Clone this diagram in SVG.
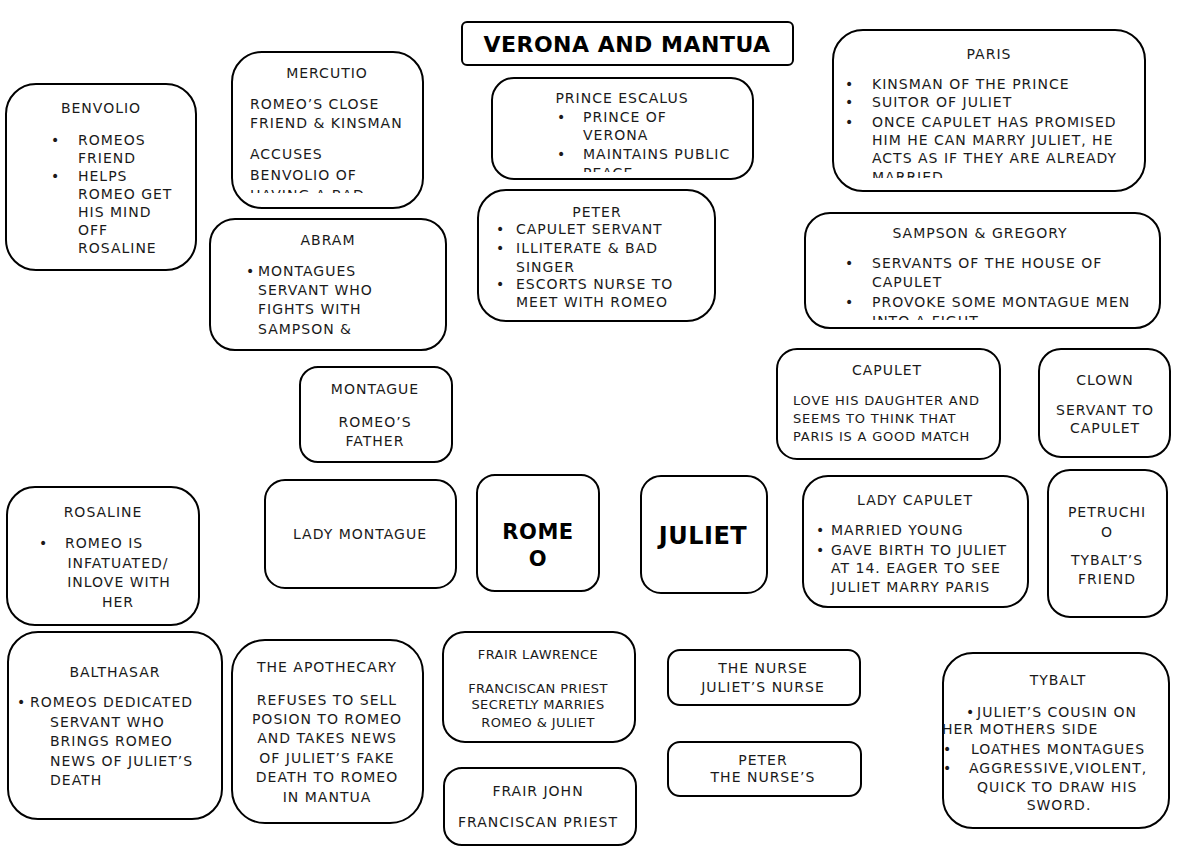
<svg xmlns="http://www.w3.org/2000/svg" width="1200" height="849" viewBox="0 0 1200 849">
<style>
.b{fill:#fff;stroke:#000;stroke-width:2}
text{font-family:"DejaVu Sans","Liberation Sans",sans-serif;font-size:14px;fill:#1a1a1a;letter-spacing:1px}
.c{text-anchor:middle}
.bold{font-weight:bold;fill:#000;letter-spacing:0.5px}
.s13{font-size:13px;letter-spacing:0.8px}
.law{font-size:13px;letter-spacing:0.4px}
</style>
<defs>
<clipPath id="clipMerc"><rect x="232" y="52" width="192" height="141"/></clipPath>
<clipPath id="clipPrince"><rect x="492" y="78" width="262" height="94"/></clipPath>
<clipPath id="clipParis"><rect x="833" y="30" width="312" height="148"/></clipPath>
<clipPath id="clipSamp"><rect x="805" y="213" width="355" height="107"/></clipPath>
<clipPath id="clipCap"><rect x="777" y="349" width="223" height="101"/></clipPath>
</defs>
<rect width="1200" height="849" fill="#fff"/>
<g id="connectors"/>

<g id="title">
<rect class="b" x="462" y="22" width="331" height="43" rx="5"/>
<text class="c bold" x="627" y="52" style="font-size:22px">VERONA AND MANTUA</text>
</g>

<g id="benvolio">
<rect class="b" x="6" y="84" width="190" height="186" rx="30"/>
<text class="c" x="101" y="113">BENVOLIO</text>
<text x="51" y="145">•</text><text x="78" y="145">ROMEOS</text>
<text x="78" y="163">FRIEND</text>
<text x="51" y="181">•</text><text x="78" y="181">HELPS</text>
<text x="78" y="199">ROMEO GET</text>
<text x="78" y="217">HIS MIND</text>
<text x="78" y="235">OFF</text>
<text x="78" y="253">ROSALINE</text>
</g>

<g id="mercutio">
<rect class="b" x="232" y="52" width="191" height="156" rx="30"/>
<text class="c" x="327" y="78">MERCUTIO</text>
<g clip-path="url(#clipMerc)">
<text x="250" y="109">ROMEO’S CLOSE</text>
<text x="250" y="128">FRIEND &amp; KINSMAN</text>
<text x="250" y="159">ACCUSES</text>
<text x="250" y="180">BENVOLIO OF</text>
<text x="250" y="200">HAVING A BAD</text>
</g>
</g>

<g id="abram">
<rect class="b" x="210" y="219" width="236" height="131" rx="25"/>
<text class="c" x="328" y="245">ABRAM</text>
<text x="246" y="276">•</text><text x="258" y="276">MONTAGUES</text>
<text x="258" y="295">SERVANT WHO</text>
<text x="258" y="314">FIGHTS WITH</text>
<text x="258" y="334">SAMPSON &amp;</text>
</g>

<g id="prince">
<rect class="b" x="492" y="78" width="261" height="101" rx="22"/>
<text class="c" x="622" y="103">PRINCE ESCALUS</text>
<g clip-path="url(#clipPrince)">
<text x="557" y="122">•</text><text x="583" y="122">PRINCE OF</text>
<text x="583" y="140">VERONA</text>
<text x="557" y="159">•</text><text x="583" y="159">MAINTAINS PUBLIC</text>
<text x="583" y="178">PEACE</text>
</g>
</g>

<g id="peter">
<rect class="b" x="478" y="190" width="237" height="131" rx="28"/>
<text class="c" x="597" y="217">PETER</text>
<text x="496" y="234">•</text><text x="516" y="234">CAPULET SERVANT</text>
<text x="496" y="253">•</text><text x="516" y="253">ILLITERATE &amp; BAD</text>
<text x="516" y="272">SINGER</text>
<text x="496" y="289">•</text><text x="516" y="289">ESCORTS NURSE TO</text>
<text x="516" y="307">MEET WITH ROMEO</text>
</g>

<g id="paris">
<rect class="b" x="833" y="30" width="312" height="161" rx="30"/>
<text class="c" x="989" y="59">PARIS</text>
<g clip-path="url(#clipParis)">
<text x="845" y="89">•</text><text x="872" y="89">KINSMAN OF THE PRINCE</text>
<text x="845" y="107">•</text><text x="872" y="107">SUITOR OF JULIET</text>
<text x="845" y="127">•</text><text x="872" y="127">ONCE CAPULET HAS PROMISED</text>
<text x="872" y="145">HIM HE CAN MARRY JULIET, HE</text>
<text x="872" y="163">ACTS AS IF THEY ARE ALREADY</text>
<text x="872" y="182">MARRIED</text>
</g>
</g>

<g id="sampson">
<rect class="b" x="805" y="213" width="355" height="115" rx="25"/>
<text class="c" x="980" y="238">SAMPSON &amp; GREGORY</text>
<g clip-path="url(#clipSamp)">
<text x="845" y="268">•</text><text x="872" y="268">SERVANTS OF THE HOUSE OF</text>
<text x="872" y="287">CAPULET</text>
<text x="845" y="307">•</text><text x="872" y="307">PROVOKE SOME MONTAGUE MEN</text>
<text x="872" y="326">INTO A FIGHT</text>
</g>
</g>

<g id="capulet">
<rect class="b" x="777" y="349" width="223" height="110" rx="20"/>
<text class="c" x="887" y="375">CAPULET</text>
<g clip-path="url(#clipCap)">
<text class="s13" x="793" y="405">LOVE HIS DAUGHTER AND</text>
<text class="s13" x="793" y="423">SEEMS TO THINK THAT</text>
<text class="s13" x="793" y="441">PARIS IS A GOOD MATCH</text>
<text class="s13" x="793" y="459">FOR JULIET</text>
</g>
</g>

<g id="clown">
<rect class="b" x="1039" y="349" width="131" height="108" rx="22"/>
<text class="c" x="1105" y="385">CLOWN</text>
<text class="c" x="1105" y="415">SERVANT TO</text>
<text class="c" x="1105" y="433">CAPULET</text>
</g>

<g id="montague">
<rect class="b" x="300" y="367" width="152" height="95" rx="18"/>
<text class="c" x="375" y="394">MONTAGUE</text>
<text class="c" x="375" y="427">ROMEO’S</text>
<text class="c" x="375" y="446">FATHER</text>
</g>

<g id="lady-montague">
<rect class="b" x="265" y="480" width="191" height="108" rx="20"/>
<text class="c" x="360" y="539">LADY MONTAGUE</text>
</g>

<g id="rosaline">
<rect class="b" x="7" y="487" width="192" height="138" rx="28"/>
<text class="c" x="103" y="517">ROSALINE</text>
<text x="39" y="548">•</text><text x="65" y="548">ROMEO IS</text>
<text class="c" x="118" y="568">INFATUATED/</text>
<text class="c" x="119" y="587">INLOVE WITH</text>
<text class="c" x="118" y="607">HER</text>
</g>

<g id="romeo">
<rect class="b" x="477" y="475" width="122" height="116" rx="18"/>
<text class="c bold" x="538" y="539" style="font-size:21px">ROME</text>
<text class="c bold" x="538" y="566" style="font-size:21px">O</text>
</g>

<g id="juliet">
<rect class="b" x="641" y="476" width="126" height="117" rx="20"/>
<text class="c bold" x="703" y="544" style="font-size:24px">JULIET</text>
</g>

<g id="lady-capulet">
<rect class="b" x="803" y="476" width="225" height="131" rx="25"/>
<text class="c" x="915" y="505">LADY CAPULET</text>
<text x="816" y="535">•</text><text x="831" y="535">MARRIED YOUNG</text>
<text x="816" y="555">•</text><text x="831" y="555">GAVE BIRTH TO JULIET</text>
<text x="831" y="573">AT 14. EAGER TO SEE</text>
<text x="831" y="592">JULIET MARRY PARIS</text>
</g>

<g id="petruchio">
<rect class="b" x="1048" y="470" width="119" height="147" rx="22"/>
<text class="c" x="1107" y="517">PETRUCHI</text>
<text class="c" x="1107" y="537">O</text>
<text class="c" x="1107" y="565">TYBALT’S</text>
<text class="c" x="1107" y="584">FRIEND</text>
</g>

<g id="balthasar">
<rect class="b" x="8" y="632" width="214" height="187" rx="30"/>
<text class="c" x="115" y="677">BALTHASAR</text>
<text x="17" y="707">•</text><text x="30" y="707">ROMEOS DEDICATED</text>
<text x="50" y="727">SERVANT WHO</text>
<text x="50" y="746">BRINGS ROMEO</text>
<text x="50" y="766">NEWS OF JULIET’S</text>
<text x="50" y="785">DEATH</text>
</g>

<g id="apothecary">
<rect class="b" x="232" y="640" width="191" height="183" rx="33"/>
<text class="c" x="327" y="672">THE APOTHECARY</text>
<text class="c" x="327" y="705">REFUSES TO SELL</text>
<text class="c" x="327" y="724">POSION TO ROMEO</text>
<text class="c" x="327" y="743">AND TAKES NEWS</text>
<text class="c" x="327" y="763">OF JULIET’S FAKE</text>
<text class="c" x="327" y="782">DEATH TO ROMEO</text>
<text class="c" x="327" y="802">IN MANTUA</text>
</g>

<g id="frair-lawrence">
<rect class="b" x="443" y="632" width="192" height="110" rx="22"/>
<text class="c law" x="538" y="659">FRAIR LAWRENCE</text>
<text class="c law" x="538" y="693">FRANCISCAN PRIEST</text>
<text class="c law" x="538" y="709">SECRETLY MARRIES</text>
<text class="c law" x="538" y="727">ROMEO &amp; JULIET</text>
</g>

<g id="frair-john">
<rect class="b" x="444" y="768" width="192" height="77" rx="18"/>
<text class="c" x="538" y="796">FRAIR JOHN</text>
<text class="c" x="538" y="827">FRANCISCAN PRIEST</text>
</g>

<g id="nurse">
<rect class="b" x="668" y="650" width="192" height="55" rx="12"/>
<text class="c" x="763" y="673">THE NURSE</text>
<text class="c" x="763" y="692">JULIET’S NURSE</text>
</g>

<g id="peter-nurse">
<rect class="b" x="668" y="742" width="193" height="54" rx="12"/>
<text class="c" x="763" y="765">PETER</text>
<text class="c" x="763" y="782">THE NURSE’S</text>
</g>

<g id="tybalt">
<rect class="b" x="943" y="653" width="226" height="175" rx="30"/>
<text class="c" x="1058" y="685">TYBALT</text>
<text x="966" y="717">•</text><text x="977" y="717">JULIET’S COUSIN ON</text>
<text x="942" y="734">HER MOTHERS SIDE</text>
<text x="943" y="754">•</text><text x="971" y="754">LOATHES MONTAGUES</text>
<text x="943" y="773">•</text><text x="969" y="773">AGGRESSIVE,VIOLENT,</text>
<text x="977" y="792">QUICK TO DRAW HIS</text>
<text class="c" x="1059" y="810">SWORD.</text>
</g>
</svg>
